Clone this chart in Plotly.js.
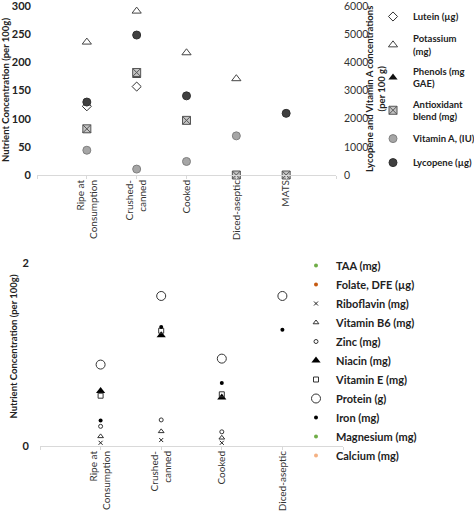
<!DOCTYPE html>
<html>
<head>
<meta charset="utf-8">
<script src="https://cdn.plot.ly/plotly-3.0.1.min.js"></script>
<style>html,body{margin:0;padding:0;background:#fff;}#chart{width:474px;height:515px;}</style>
</head>
<body>
<div id="chart"></div>
<script>
// ---- Top chart data ----
var topCategories = ['Ripe at<br>Consumption', 'Crushed-<br>canned', 'Cooked', 'Diced-aseptic', 'MATS'];
var lutein = [122, 157, null, null, null];
var potassium = [236, 291, 217, 171, null];
var phenols = [79, 176, 94, null, null];
var antioxidant = [82, 182, 97, 0, 0];
var vitaminA = [880, 210, 480, 1390, null];
var lycopene = [2590, 4970, 2810, null, 2190];
var topLeftTicks = [0, 50, 100, 150, 200, 250, 300];
var topRightTicks = [0, 1000, 2000, 3000, 4000, 5000, 6000];

// ---- Bottom chart data ----
var bottomCategories = ['Ripe at<br>Consumption', 'Crushed-<br>canned', 'Cooked', 'Diced-aseptic'];
var taa = [null, null, null, null];
var folate = [null, null, null, null];
var riboflavin = [0.035, 0.065, 0.035, null];
var vitaminB6 = [0.105, 0.16, 0.09, null];
var zinc = [0.215, 0.285, 0.155, null];
var niacin = [0.60, 1.21, 0.53, null];
var vitaminE = [0.55, 1.26, 0.565, null];
var protein = [0.89, 1.64, 0.955, 1.64];
var iron = [0.28, 1.30, 0.69, 1.27];
var magnesium = [null, null, null, null];
var calcium = [null, null, null, null];
var bottomTicks = [0, 2];

var W = 474, H = 515;
function px(x) { return x / W; }
function py(y) { return 1 - y / H; }

var topX = topCategories.map(function (c, i) { return i + 1; });
var botX = bottomCategories.map(function (c, i) { return i + 1; });

var FONT = 'Lato, "Liberation Sans", sans-serif';
var traces = [];
var gi = 0;
function topTrace(name, ys, marker, yaxis) {
  gi += 1;
  traces.push({type: 'scatter', mode: 'markers', name: name, x: topX, y: ys, legendgroup: 'g' + gi,
    xaxis: 'x', yaxis: yaxis || 'y', marker: marker, cliponaxis: false, legend: 'legend'});
}
function botTrace(name, ys, marker) {
  traces.push({type: 'scatter', mode: 'markers', name: name, x: botX, y: ys,
    xaxis: 'x2', yaxis: 'y3', marker: marker, cliponaxis: false, legend: 'legend2'});
}

topTrace('Lutein (µg)', lutein, {symbol: 'diamond-open', size: 7, color: '#333', line: {width: 1}});
topTrace('Potassium<br>(mg)', potassium, {symbol: 'triangle-up-open', size: 8, color: '#444', line: {width: 1}});
topTrace('Phenols (mg<br>GAE)', phenols, {symbol: 'triangle-up', size: 8, color: '#111'});
topTrace('Antioxidant<br>blend (mg)', antioxidant, {symbol: 'square-x', size: 8, color: '#c4c4c4', line: {color: '#555', width: 1}});
topTrace('Vitamin A, (IU)', vitaminA, {symbol: 'circle', size: 8, color: '#a6a6a6', line: {color: '#808080', width: 1}}, 'y2');
topTrace('Lycopene (µg)', lycopene, {symbol: 'circle', size: 8, color: '#404040', line: {color: '#303030', width: 1}}, 'y2');

botTrace('TAA (mg)', taa, {symbol: 'circle', size: 4, color: '#70ad47'});
botTrace('Folate, DFE (µg)', folate, {symbol: 'circle', size: 4, color: '#c55a11'});
botTrace('Riboflavin (mg)', riboflavin, {symbol: 'x-thin-open', size: 4, color: '#222', line: {width: 1, color: '#222'}});
botTrace('Vitamin B6 (mg)', vitaminB6, {symbol: 'triangle-up-open', size: 5, color: '#333', line: {width: 1}});
botTrace('Zinc (mg)', zinc, {symbol: 'circle-open', size: 4, color: '#333', line: {width: 1}});
botTrace('Niacin (mg)', niacin, {symbol: 'triangle-up', size: 8, color: '#000'});
botTrace('Vitamin E (mg)', vitaminE, {symbol: 'square-open', size: 5, color: '#333', line: {width: 1}});
botTrace('Protein (g)', protein, {symbol: 'circle-open', size: 9, color: '#333', line: {width: 1}});
botTrace('Iron (mg)', iron, {symbol: 'circle', size: 4, color: '#000'});
botTrace('Magnesium (mg)', magnesium, {symbol: 'circle', size: 4, color: '#70ad47'});
botTrace('Calcium (mg)', calcium, {symbol: 'circle', size: 4, color: '#f4b183'});

var tickFontBold = {family: FONT, size: 11, color: '#222', weight: 'bold'};
var tickFontReg = {family: FONT, size: 10.5, color: '#333'};
var catFont = {family: FONT, size: 10, color: '#333'};
var EPS = 1.0002;

var layout = {
  width: W, height: H,
  margin: {l: 0, r: 0, t: 0, b: 0, autoexpand: false},
  paper_bgcolor: '#fff', plot_bgcolor: 'rgba(0,0,0,0)',
  font: {family: FONT},
  xaxis: {domain: [px(37), px(336)], anchor: 'y', range: [0, 6], tickmode: 'array',
    tickvals: topX, ticktext: topCategories, tickangle: -90, tickfont: catFont,
    showgrid: false, zeroline: false, showline: true, linecolor: '#d9d9d9', linewidth: 1,
    ticks: '', minor: {dtick: 1, tick0: 0, ticks: 'outside', ticklen: 3, tickcolor: '#d9d9d9', showgrid: false}},
  yaxis: {domain: [py(175), py(6)], anchor: 'x', range: [0, 300 * EPS], tickmode: 'array', tickvals: topLeftTicks,
    tickfont: tickFontBold, showgrid: false, zeroline: false, showline: false, ticks: '', ticklabelstandoff: 5,
    ticklabeloverflow: 'allow'},
  yaxis2: {overlaying: 'y', side: 'right', anchor: 'x', range: [0, 6000 * EPS], tickmode: 'array', tickvals: topRightTicks,
    tickfont: tickFontReg, showgrid: false, zeroline: false, showline: false, ticks: '', ticklabelstandoff: 7,
    ticklabeloverflow: 'allow'},
  xaxis2: {domain: [px(40), px(343)], anchor: 'y3', range: [0, 5], tickmode: 'array',
    tickvals: botX, ticktext: bottomCategories, tickangle: -90, tickfont: catFont,
    showgrid: false, zeroline: false, showline: true, linecolor: '#d9d9d9', linewidth: 1,
    ticks: '', minor: {dtick: 1, tick0: 0, ticks: 'outside', ticklen: 3, tickcolor: '#d9d9d9', showgrid: false}},
  yaxis3: {domain: [py(446), py(263)], anchor: 'x2', range: [0, 2 * EPS], tickmode: 'array', tickvals: bottomTicks,
    tickfont: tickFontBold, showgrid: false, zeroline: false, showline: false, ticks: '', ticklabelstandoff: 10,
    ticklabeloverflow: 'allow'},
  legend: {x: px(373), y: py(2), xanchor: 'left', yanchor: 'top', bgcolor: 'rgba(0,0,0,0)', tracegroupgap: 5,
    font: {family: FONT, size: 9.5, color: '#222', weight: 'bold'}, itemclick: false},
  legend2: {x: px(296), y: py(251), xanchor: 'left', yanchor: 'top', bgcolor: 'rgba(0,0,0,0)',
    font: {family: FONT, size: 11, color: '#222', weight: 'bold'}, itemclick: false},
  annotations: [
    {text: 'Nutrient Concentration (per 100g)', xref: 'paper', yref: 'paper', x: px(5), y: py(90),
      xanchor: 'center', yanchor: 'middle',
      textangle: -90, showarrow: false, font: {family: FONT, size: 9.5, color: '#222', weight: 'bold'}},
    {text: 'Lycopene and Vitamin A concentrations<br>(per 100 g)', xref: 'paper', yref: 'paper', x: px(375), y: py(89),
      xanchor: 'center', yanchor: 'middle',
      textangle: -90, showarrow: false, font: {family: FONT, size: 9.5, color: '#222', weight: 'bold'}},
    {text: 'Nutrient Concentration (per 100g)', xref: 'paper', yref: 'paper', x: px(12.5), y: py(347),
      xanchor: 'center', yanchor: 'middle',
      textangle: -90, showarrow: false, font: {family: FONT, size: 9.5, color: '#222', weight: 'bold'}}
  ],
  showlegend: true
};

Plotly.newPlot('chart', traces, layout, {staticPlot: true, displayModeBar: false});
</script>
</body>
</html>
